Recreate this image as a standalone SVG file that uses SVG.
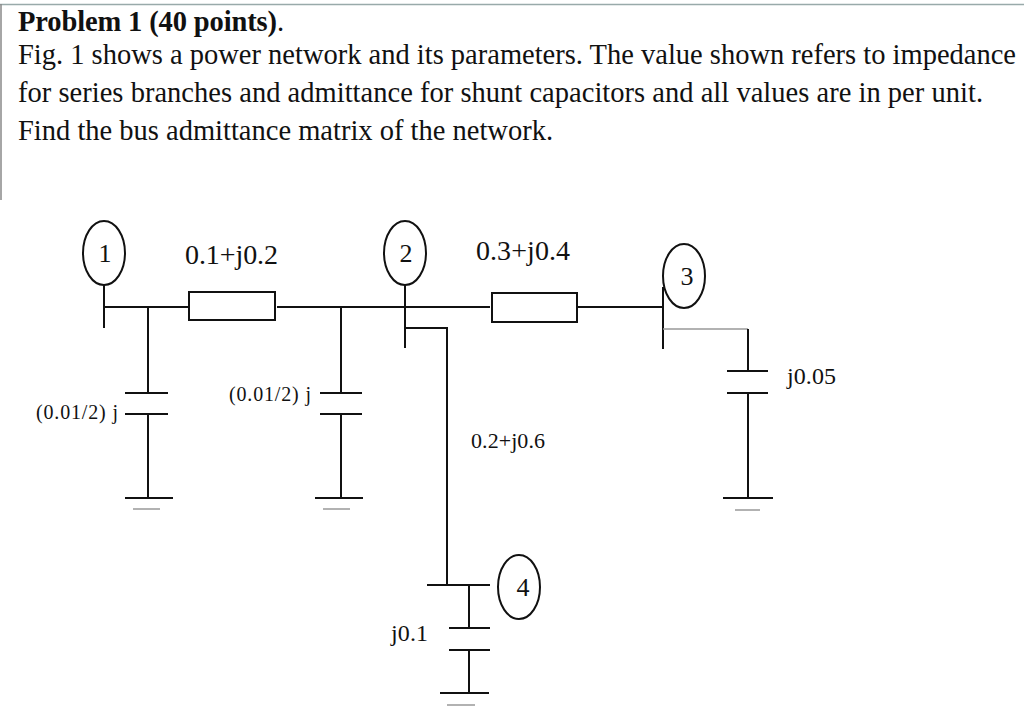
<svg xmlns="http://www.w3.org/2000/svg" width="1024" height="710" viewBox="0 0 1024 710">
<style>
text{font-family:"Liberation Serif","Times New Roman",serif;fill:#111}
.h{font-size:28.5px}
.l{stroke:#111;stroke-width:2;fill:none}
.g{stroke:#999;stroke-width:1.5;fill:none}
.b{fill:#fff;stroke:#111;stroke-width:2}
</style>
<rect width="1024" height="710" fill="#fff"/>
<line x1="0" y1="4.5" x2="1024" y2="4.5" stroke="#9aa" stroke-width="1.5"/>
<line x1="1" y1="4" x2="1" y2="200" stroke="#888" stroke-width="1.5"/>
<text class="h" x="18" y="31" font-weight="bold" textLength="266">Problem 1 (40 points)<tspan font-weight="normal">.</tspan></text>
<text class="h" x="18" y="64" textLength="998">Fig. 1 shows a power network and its parameters. The value shown refers to impedance</text>
<text class="h" x="18" y="102" textLength="965">for series branches and admittance for shunt capacitors and all values are in per unit.</text>
<text class="h" x="18" y="140" textLength="535">Find the bus admittance matrix of the network.</text>
<g id="connectors">
<path class="l" d="M189 307H104M104 285V328M277 307H490M577 307H663M405 285V348M405 328H447V585M663 287V349"/>
<path class="g" d="M663 329H748"/>
<path class="l" d="M748 329V371M727 371H768M727 393H768M748 393V498M723 498H773"/>
<path class="g" d="M735 510H760"/>
<path class="l" d="M148 307V393M125 393H168M125 414H168M148 414V498M125 498H173"/>
<path class="g" d="M133 509H160"/>
<path class="l" d="M341 307V393M320 393H362M320 414H362M341 414V498M315 498H363"/>
<path class="g" d="M323 509H350"/>
<path class="l" d="M427 585H490M469 585V628M449 628H490M449 650H490M469 650V693M440 693H489"/>
<path class="g" d="M447 705H475"/>
</g>
<g id="z12"><rect class="b" x="189" y="292" width="86" height="28"/><text x="185" y="264" font-size="28" textLength="93">0.1+j0.2</text></g>
<g id="z23"><rect class="b" x="492" y="293" width="85" height="29"/><text x="476" y="260" font-size="28" textLength="94">0.3+j0.4</text></g>
<g id="z24"><text x="471" y="448" font-size="22" textLength="74">0.2+j0.6</text></g>
<g id="bus1"><ellipse class="b" cx="104" cy="253" rx="21" ry="32"/><text x="105" y="262" font-size="26" text-anchor="middle">1</text></g>
<g id="bus2"><ellipse class="b" cx="405" cy="253" rx="21" ry="32"/><text x="406" y="262" font-size="26" text-anchor="middle">2</text></g>
<g id="bus3"><ellipse class="b" cx="684" cy="276" rx="21" ry="32"/><text x="687" y="285" font-size="26" text-anchor="middle">3</text></g>
<g id="bus4"><ellipse class="b" cx="519" cy="587" rx="21" ry="32"/><text x="523" y="596" font-size="26" text-anchor="middle">4</text></g>
<g id="c1"><text x="36" y="419" font-size="20" textLength="82">(0.01/2) j</text></g>
<g id="c2"><text x="229" y="401" font-size="20" textLength="82">(0.01/2) j</text></g>
<g id="c3"><text x="787" y="384" font-size="24" textLength="49">j0.05</text></g>
<g id="c4"><text x="391" y="641" font-size="24" textLength="37">j0.1</text></g>
</svg>
